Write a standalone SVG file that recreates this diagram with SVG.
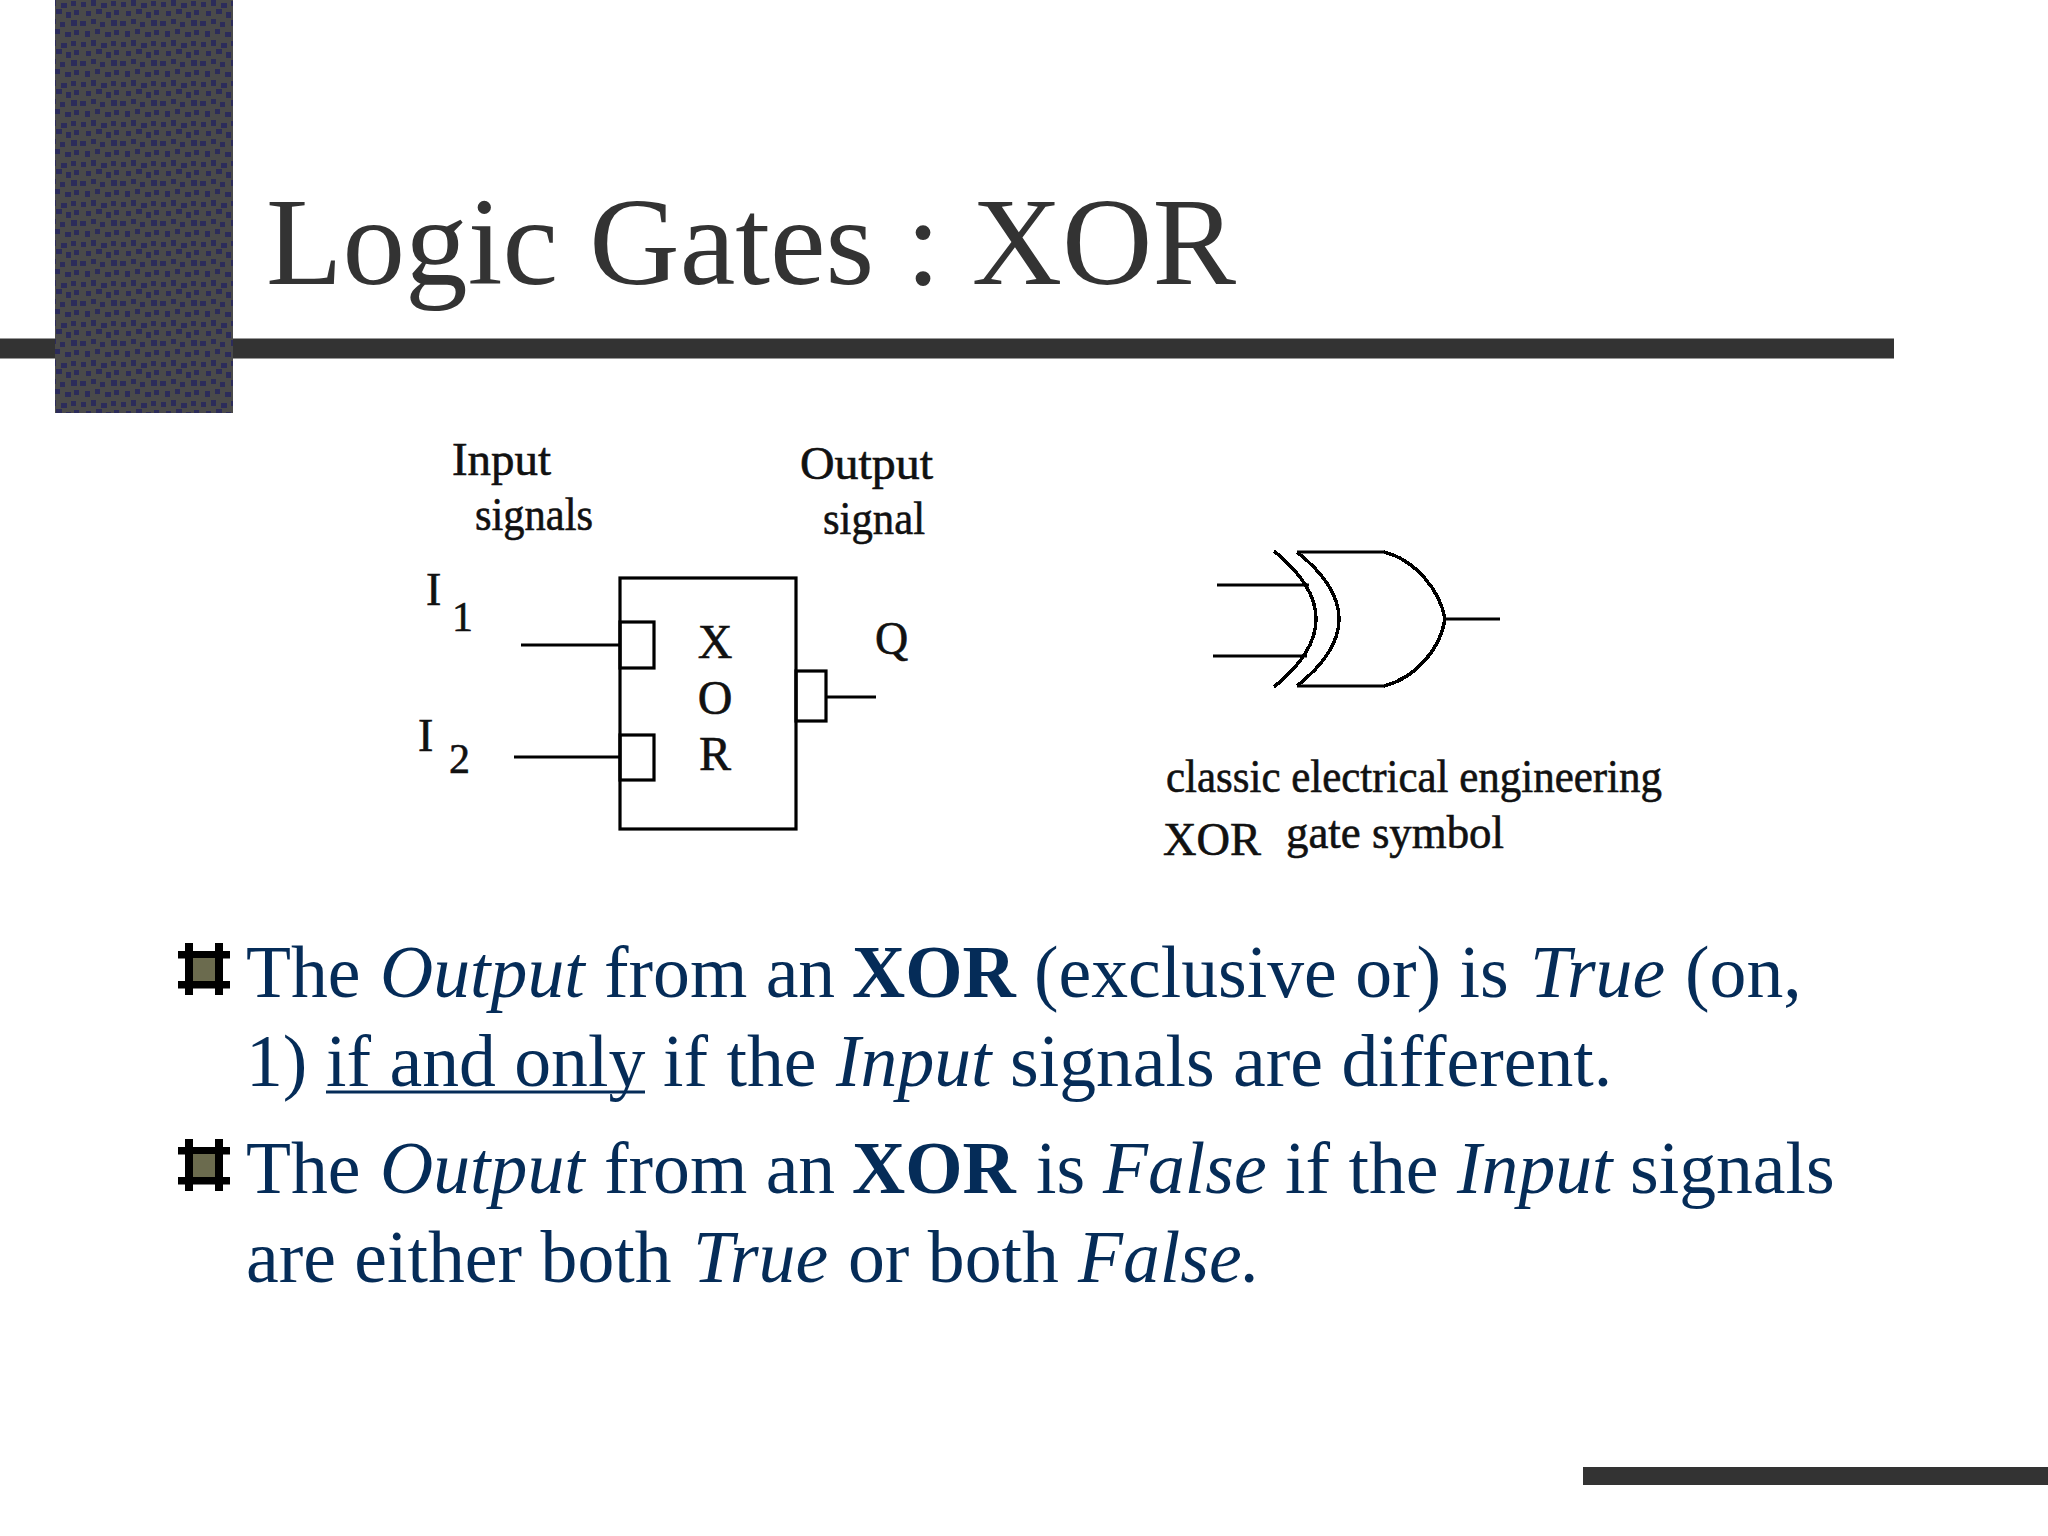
<svg xmlns="http://www.w3.org/2000/svg" width="2048" height="1536" viewBox="0 0 2048 1536">
<style>
.title{font-family:"Liberation Serif",serif;font-size:125.2px;fill:#333}
.body{font-family:"Liberation Serif",serif;font-size:73.7px;fill:#052c58}
.i{font-style:italic}.b{font-weight:bold}
.px{font-family:"Liberation Serif",serif;fill:#111;font-size:46px;stroke:#111;stroke-width:.6}
.ln{fill:none;stroke:#000;stroke-width:3.2}
.arc{fill:none;stroke:#000;stroke-width:3.5;shape-rendering:crispEdges}
.dk{fill:#333}
.d{fill:#2c2c5a}
</style>
<defs>
<pattern id="tex" width="40" height="40" patternUnits="userSpaceOnUse">
<rect width="40" height="40" fill="#4a4a4a"/>
<g class="d">
<rect x="1" y="2" width="5" height="5"/><rect x="11" y="0" width="5" height="6"/><rect x="21" y="3" width="6" height="5"/><rect x="31" y="1" width="5" height="5"/>
<rect x="6" y="11" width="5" height="5"/><rect x="16" y="9" width="6" height="5"/><rect x="26" y="12" width="5" height="6"/><rect x="34" y="10" width="5" height="5"/>
<rect x="0" y="21" width="6" height="5"/><rect x="11" y="19" width="5" height="5"/><rect x="20" y="22" width="5" height="5"/><rect x="31" y="20" width="6" height="6"/>
<rect x="5" y="31" width="5" height="6"/><rect x="15" y="29" width="5" height="5"/><rect x="25" y="32" width="6" height="5"/><rect x="34" y="30" width="5" height="5"/>
</g>
</pattern>
<g id="bullet">
<rect x="185" y="943" width="8" height="52" fill="#000"/>
<rect x="215" y="943" width="8" height="52" fill="#000"/>
<rect x="178" y="951" width="52" height="7.5" fill="#000"/>
<rect x="178" y="981" width="52" height="7.5" fill="#000"/>
<rect x="193" y="958" width="22" height="23" fill="#6b6b4e"/>
</g>
</defs>
<rect width="2048" height="1536" fill="#fff"/>
<g id="slide-frame">
<rect class="dk" x="0" y="338.5" width="1894" height="20"/>
<rect x="55" y="0" width="178" height="413" fill="url(#tex)"/>
<rect class="dk" x="1583" y="1467" width="465" height="18"/>
</g>
<text id="title" class="title" x="266" y="284">Logic Gates : XOR</text>
<g id="connectors">
<path class="ln" d="M521 645H620M514 757H620M826 697H876"/>
<path class="ln" d="M1217 585H1309M1213 656H1307M1445 619H1500"/>
</g>
<g id="xor-block">
<rect class="ln" x="620" y="578" width="176" height="251"/>
<rect class="ln" x="620" y="622" width="34" height="46"/>
<rect class="ln" x="620" y="735" width="34" height="45"/>
<rect class="ln" x="796" y="671" width="30" height="50"/>
<g class="px" style="font-size:48px" text-anchor="middle">
<text x="715" y="658">X</text>
<text x="715" y="714">O</text>
<text x="715" y="770">R</text>
</g>
</g>
<g id="xor-symbol">
<path class="ln" d="M1297 552H1384M1297 686H1384"/>
<path class="arc" d="M1384 552C1415 560 1440 590 1445 619C1440 650 1415 678 1384 686"/>
<path class="arc" d="M1297 552Q1381 619 1297 686"/>
<path class="arc" d="M1274 551Q1358 619 1274 687"/>
</g>
<g id="labels" class="px">
<text x="452" y="475" textLength="99" lengthAdjust="spacingAndGlyphs">Input</text>
<text x="475" y="530" textLength="118" lengthAdjust="spacingAndGlyphs">signals</text>
<text x="800" y="479" textLength="133" lengthAdjust="spacingAndGlyphs">Output</text>
<text x="823" y="534" textLength="102" lengthAdjust="spacingAndGlyphs">signal</text>
<text x="426" y="605">I</text>
<text x="452" y="631" style="font-size:42px">1</text>
<text x="418" y="751">I</text>
<text x="449" y="773" style="font-size:42px">2</text>
<text x="875" y="654">Q</text>
<text x="1166" y="792" textLength="496" lengthAdjust="spacingAndGlyphs">classic electrical engineering</text>
<text x="1163" y="855" textLength="98" lengthAdjust="spacingAndGlyphs">XOR</text>
<text x="1286" y="848" textLength="218" lengthAdjust="spacingAndGlyphs">gate symbol</text>
</g>
<g id="bullets">
<use href="#bullet"/>
<use href="#bullet" y="196"/>
<rect x="326" y="1090.5" width="319" height="3" fill="#052c58"/>
<text class="body" y="997"><tspan x="246">The</tspan> <tspan x="380" class="i">Output</tspan> <tspan x="604">from an</tspan> <tspan x="852" class="b">XOR</tspan> <tspan x="1034">(exclusive or) is</tspan> <tspan x="1530" class="i">True</tspan> <tspan x="1685">(on,</tspan></text>
<text class="body" y="1086"><tspan x="246">1)</tspan> <tspan x="326">if and only</tspan> <tspan x="663">if the</tspan> <tspan x="836" class="i">Input</tspan> <tspan x="1010">signals are different.</tspan></text>
<text class="body" y="1193"><tspan x="246">The</tspan> <tspan x="380" class="i">Output</tspan> <tspan x="604">from an</tspan> <tspan x="852" class="b">XOR</tspan> <tspan x="1036">is</tspan> <tspan x="1103" class="i">False</tspan> <tspan x="1285">if the</tspan> <tspan x="1457" class="i">Input</tspan> <tspan x="1630">signals</tspan></text>
<text class="body" y="1282"><tspan x="246">are either both</tspan> <tspan x="693" class="i">True</tspan> <tspan x="848">or both</tspan> <tspan x="1078" class="i">False.</tspan></text>
</g>
</svg>
